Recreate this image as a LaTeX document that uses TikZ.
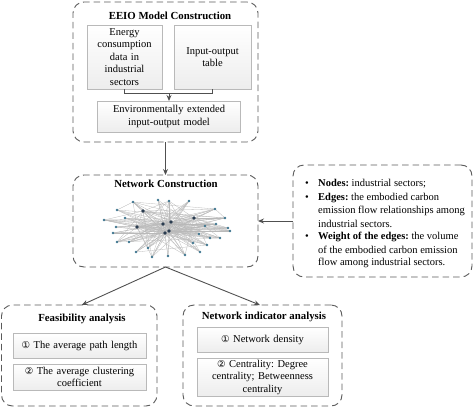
\documentclass[tikz,border=0pt]{standalone}
\usepackage{fontspec}
\setmainfont{Liberation Serif}
\newfontfamily\symfont{DejaVu Sans}
\usetikzlibrary{arrows.meta,calc}
\frenchspacing
\newcommand\cnum[1]{{\symfont\fontsize{9.5}{12}\selectfont#1}}
\definecolor{framec}{HTML}{5A5A5A}
\definecolor{arrc}{HTML}{505050}
\definecolor{dotc}{HTML}{3E7690}
\definecolor{hubc}{HTML}{2A3C50}
\tikzset{
  outerbox/.style={draw=framec, line width=0.9pt, dash pattern=on 6.5pt off 4pt,
    rounded corners=11pt, inner sep=0pt, outer sep=0pt},
  innerbox/.style={draw=gray!55, line width=0.6pt, top color=white, bottom color=gray!14,
    inner sep=1pt, outer sep=0pt, align=center, font=\fontsize{10.5}{12.5}\selectfont},
  titletext/.style={font=\bfseries\fontsize{10.8}{12.5}\selectfont, inner sep=0pt},
  bodytext/.style={font=\fontsize{10.5}{12.5}\selectfont, inner sep=0pt, anchor=west},
  arrowline/.style={draw=arrc, line width=0.9pt, -{Stealth[length=6pt,width=5pt]}},
  plainline/.style={draw=arrc, line width=0.9pt},
  netedge/.style={draw=gray!55, line width=0.3pt},
  netdot/.style={circle, fill=dotc, inner sep=0pt, minimum size=2.6pt},
  hubdot/.style={circle, fill=hubc, inner sep=0pt, minimum size=3.6pt}
}
\begin{document}
\begin{tikzpicture}[x=1pt,y=-1pt]
\useasboundingbox (0,0) rectangle (474,407);
% ---- EEIO box
\node[outerbox, minimum width=185pt, minimum height=140pt] (eeio) at (165.5,72) {};
\node[titletext] (eeiot) at (170,16) {EEIO Model Construction};
\node[innerbox, minimum width=75pt, minimum height=64pt, text width=72pt] (energy) at (124.5,57)
  {Energy\\consumption\\data in\\industrial\\sectors};
\node[innerbox, minimum width=77pt, minimum height=64pt, text width=74pt] (iotab) at (212.5,57)
  {Input-output\\table};
\node[innerbox, minimum width=143pt, minimum height=31pt, text width=140pt] (eeiom) at (169,116.5)
  {Environmentally extended\\input-output model};
\draw[plainline] (energy.south) -- ++(0,4) coordinate (j1) -| (iotab.south);
\draw[arrowline] (j1 -| eeiom.north) -- (eeiom.north);
% ---- Network box
\node[outerbox, minimum width=185pt, minimum height=92pt] (net) at (165.5,221) {};
\node[titletext] (nett) at (166,184) {Network Construction};
\draw[arrowline] (eeio.south) -- (net.north);
% network graph
\foreach \n/\x/\y in {p1/133/202,p2/158/200,p3/169/201,p4/189/201,p5/117/210,p6/215/209,
  p7/104/220,p8/116/227,p9/225/218,p10/216/224,p11/228/228,p12/113/233,p13/230/231,
  p14/199/234,p15/117/242,p16/129/242,p17/148/248,p18/193/243,p19/210/238,p20/220/238,
  p21/136/252,p22/152/257,p23/168/256,p24/185/255,p25/200/252,p26/207/245,p27/125/218,p28/205/226}
  {\coordinate (\n) at (\x,\y);}
\foreach \n/\x/\y in {h1/163/224,h2/171/222,h3/165/233,h4/169/231,h5/137/227,h6/143/211,h7/194/218}
  {\coordinate (\n) at (\x,\y);}
\foreach \h in {h1,h2,h3,h4}{
  \foreach \p in {p1,p2,p3,p4,p5,p6,p7,p8,p9,p10,p11,p12,p13,p14,p15,p16,p17,p18,p19,p20,p21,p22,p23,p24,p25,p26,p27,p28}
    {\draw[netedge] (\h) -- (\p);}
}
\foreach \h in {h5,h6,h7}{
  \foreach \p in {p1,p3,p6,p7,p9,p11,p13,p15,p17,p20,p22,p24,p26}
    {\draw[netedge] (\h) -- (\p);}
}
\foreach \a/\b in {h5/h6,h6/h7,h5/h7,h1/h5,h2/h7,h3/h6,h4/h5,h1/h7,
  p1/p6,p7/p13,p5/p9,p12/p11,p15/p20,p2/p19,p4/p16,p1/p5,p6/p9,p21/p26,p8/p10,p27/p28,
  p3/p25,p4/p21,p16/p10,p14/p7}
  {\draw[netedge] (\a) -- (\b);}
\foreach \p in {p1,p2,p3,p4,p5,p6,p7,p8,p9,p10,p11,p12,p13,p14,p15,p16,p17,p18,p19,p20,p21,p22,p23,p24,p25,p26,p27,p28}
  {\node[netdot] (d\p) at (\p) {};}
\foreach \h in {h1,h2,h3,h4,h5,h6,h7}
  {\node[hubdot] (d\h) at (\h) {};}
% ---- Right description box
\node[outerbox, minimum width=179pt, minimum height=112pt] (desc) at (382.5,221) {};
\draw[arrowline] (desc.west) -- (net.east);
\node[bodytext] (b1) at (305,184) {\textbullet};
\node[bodytext] (b2) at (305,198) {\textbullet};
\node[bodytext] (b3) at (305,237) {\textbullet};
\node[bodytext] (l1) at (318,184) {\textbf{Nodes:} industrial sectors;};
\node[bodytext] (l2) at (318,198) {\textbf{Edges:} the embodied carbon};
\node[bodytext] (l3) at (318,211) {emission flow relationships among};
\node[bodytext] (l4) at (318,224) {industrial sectors.};
\node[bodytext] (l5) at (318,237) {\textbf{Weight of the edges:} the volume};
\node[bodytext] (l6) at (318,250) {of the embodied carbon emission};
\node[bodytext] (l7) at (318,263) {flow among industrial sectors.};
% ---- Feasibility box
\node[outerbox, minimum width=155.5pt, minimum height=101pt] (feas) at (79.25,355.5) {};
\node[titletext] (feast) at (82,319) {Feasibility analysis};
\node[innerbox, minimum width=133pt, minimum height=25pt, text width=130pt] (apl) at (79.5,345.5)
  {\cnum{①} The average path length};
\node[innerbox, minimum width=133pt, minimum height=26pt, text width=130pt] (acc) at (79.5,377)
  {\cnum{②} The average clustering\\coefficient};
% ---- Network indicator box
\node[outerbox, minimum width=159pt, minimum height=101pt] (ind) at (262.5,355.5) {};
\node[titletext] (indt) at (264,317) {Network indicator analysis};
\node[innerbox, minimum width=131pt, minimum height=25pt, text width=128pt] (dens) at (262.5,339.5)
  {\cnum{①} Network density};
\node[innerbox, minimum width=131pt, minimum height=38pt, text width=128pt] (cent) at (262.5,377)
  {\cnum{②} Centrality: Degree\\centrality; Betweenness\\centrality};
\draw[arrowline] (net.south) -- ($(feas.north)+(2.5,0)$);
\draw[arrowline] (net.south) -- ($(ind.north)+(-2.5,0)$);
\end{tikzpicture}
\end{document}
